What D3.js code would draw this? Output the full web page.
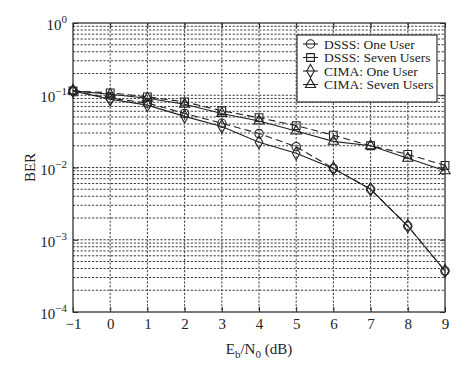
<!DOCTYPE html>
<html><head><meta charset="utf-8">
<script src="https://d3js.org/d3.v7.min.js"></script>
<style>body{margin:0;background:#fff;} svg{display:block;}</style>
</head><body>
<svg id="c" width="474" height="374"></svg>
<script>
const xVals = [-1,0,1,2,3,4,5,6,7,8,9];
const dsssOne   = [0.115,0.091,0.078,0.056,0.041,0.0295,0.0194,0.0097,0.0050,0.00155,0.00037];
const dsssSeven = [0.115,0.108,0.095,0.081,0.061,0.049,0.038,0.028,0.020,0.0152,0.0107];
const cimaOne   = [0.115,0.088,0.073,0.051,0.037,0.0224,0.0157,0.0097,0.0050,0.00155,0.00037];
const cimaSeven = [0.115,0.103,0.091,0.075,0.056,0.044,0.032,0.023,0.020,0.0134,0.0090];
const seriesNames = ["DSSS: One User","DSSS: Seven Users","CIMA: One User","CIMA: Seven Users"];
const xTicks = [-1,0,1,2,3,4,5,6,7,8,9];
const yExps = [0,-1,-2,-3,-4];

const svg = d3.select("#c");
const L=73, R=445, T=23, B=312;
const x = d3.scaleLinear().domain([-1,9]).range([L,R]);
const y = d3.scaleLog().domain([1e-4,1]).range([B,T]);
const font = "'Liberation Serif','Times New Roman',serif";

svg.append("rect").attr("x",L).attr("y",T).attr("width",R-L).attr("height",B-T).attr("fill","#fff");

// grid
const g = svg.append("g");
const minor = [];
for (let e=-4;e<0;e++) for (let m=1;m<10;m++) minor.push(m*Math.pow(10,e));
g.selectAll("line.h").data(minor.filter(v=>v>1e-4)).join("line")
  .attr("x1",L).attr("x2",R).attr("y1",d=>y(d)).attr("y2",d=>y(d))
  .attr("stroke","#3a3a3a").attr("stroke-width",1).attr("stroke-dasharray","2.2,1.6");
g.selectAll("line.v").data(xTicks.slice(1,-1)).join("line")
  .attr("y1",T).attr("y2",B).attr("x1",d=>x(d)).attr("x2",d=>x(d))
  .attr("stroke","#3a3a3a").attr("stroke-width",1).attr("stroke-dasharray","2.2,1.6");

// axes
const xa = svg.append("g").attr("transform",`translate(0,${B})`)
  .call(d3.axisBottom(x).tickValues(xTicks).tickSize(-5).tickPadding(6).tickFormat(d=>d<0?"\u2212"+(-d):d));
const xt = svg.append("g").attr("transform",`translate(0,${T})`)
  .call(d3.axisTop(x).tickValues(xTicks).tickSize(-5).tickFormat(""));
const ya = svg.append("g").attr("transform",`translate(${L},0)`)
  .call(d3.axisLeft(y).tickValues(yExps.map(e=>Math.pow(10,e))).tickSize(-5).tickFormat(""));
const yr = svg.append("g").attr("transform",`translate(${R},0)`)
  .call(d3.axisRight(y).tickValues(yExps.map(e=>Math.pow(10,e))).tickSize(-5).tickFormat(""));
[xa,xt,ya,yr].forEach(a=>{a.select(".domain").remove(); a.selectAll("line").attr("stroke","#222");});
xa.selectAll("text").attr("font-family",font).attr("font-size",15).attr("fill","#222");

svg.append("rect").attr("x",L).attr("y",T).attr("width",R-L).attr("height",B-T)
  .attr("fill","none").attr("stroke","#333").attr("stroke-width",1.3);

// y tick labels
yExps.forEach(e=>{
  const t = svg.append("text").attr("x",L-6).attr("y",y(Math.pow(10,e))+7)
    .attr("text-anchor","end").attr("font-family",font).attr("font-size",15).attr("fill","#222");
  t.append("tspan").text("10");
  t.append("tspan").attr("dy",-7).attr("font-size",11).text(e===0?"0":"\u2212"+(-e));
});

// axis labels
svg.append("text").attr("transform",`translate(35,${(T+B)/2}) rotate(-90)`)
  .attr("text-anchor","middle").attr("font-family",font).attr("font-size",15).attr("fill","#222").text("BER");
const xl = svg.append("text").attr("x",(L+R)/2).attr("y",354).attr("text-anchor","middle")
  .attr("font-family",font).attr("font-size",15).attr("fill","#222");
xl.append("tspan").text("E");
xl.append("tspan").attr("dy",4).attr("font-size",11).text("b");
xl.append("tspan").attr("dy",-4).text("/N");
xl.append("tspan").attr("dy",4).attr("font-size",11).text("0");
xl.append("tspan").attr("dy",-4).text(" (dB)");

// series
const series = [
  {name:seriesNames[0], v:dsssOne, dash:"7,4", marker:"circle"},
  {name:seriesNames[1], v:dsssSeven, dash:"7,4", marker:"square"},
  {name:seriesNames[2], v:cimaOne, dash:null, marker:"diamond"},
  {name:seriesNames[3], v:cimaSeven, dash:null, marker:"triangle"}
];
const symMap = {circle:d3.symbolCircle, square:d3.symbolSquare, diamond:d3.symbolDiamond, triangle:d3.symbolTriangle};
const symSize = {circle:55, square:60, diamond:50, triangle:45};
const line = d3.line().x((d,i)=>x(xVals[i])).y(d=>y(d));
series.forEach(s=>{
  svg.append("path").datum(s.v).attr("d",line).attr("fill","none").attr("stroke","#222")
    .attr("stroke-width",1.1).attr("stroke-dasharray",s.dash);
});
series.forEach(s=>{
  svg.append("g").selectAll("path").data(s.v).join("path")
    .attr("transform",(d,i)=>`translate(${x(xVals[i])},${y(d)})`)
    .attr("d",d3.symbol().type(symMap[s.marker]).size(symSize[s.marker]))
    .attr("fill","none").attr("stroke","#222").attr("stroke-width",1.1);
});

// legend
const lg = svg.append("g");
lg.append("rect").attr("x",297).attr("y",35).attr("width",140).attr("height",67)
  .attr("fill","#fff").attr("stroke","#333").attr("stroke-width",1.2);
series.forEach((s,i)=>{
  const yy = 44 + i*13.5;
  lg.append("line").attr("x1",303).attr("x2",318).attr("y1",yy).attr("y2",yy).attr("stroke","#222").attr("stroke-width",1.1);
  lg.append("path").attr("transform",`translate(310.5,${yy})`)
    .attr("d",d3.symbol().type(symMap[s.marker]).size(symSize[s.marker]))
    .attr("fill","none").attr("stroke","#222").attr("stroke-width",1.1);
  lg.append("text").attr("x",324).attr("y",yy+4.5).attr("font-family",font).attr("font-size",13.5)
    .attr("fill","#222").text(s.name);
});
</script>
</body></html>
